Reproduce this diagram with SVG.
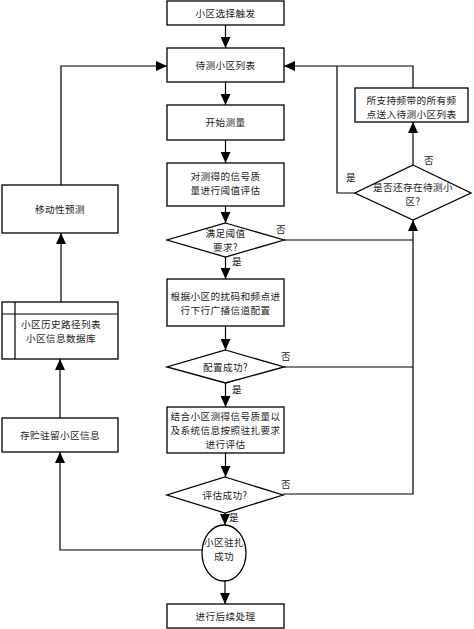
<svg xmlns="http://www.w3.org/2000/svg" width="474" height="629" viewBox="0 0 474 629">
<defs>
<style>
.box{fill:#fff;stroke:#000;stroke-width:1.3}
.t{font-family:"Noto Sans CJK SC","Noto Sans",sans-serif;font-size:9.6px;letter-spacing:0.4px;text-anchor:middle;fill:#1a1a1a}
.l{font-family:"Noto Sans CJK SC","Noto Sans",sans-serif;font-size:9.6px;fill:#1a1a1a}
.c{fill:none;stroke:#000;stroke-width:1.2}
</style>
<marker id="ah" markerUnits="userSpaceOnUse" markerWidth="12" markerHeight="10" refX="11" refY="5" orient="auto">
<path d="M0,0 L11,5 L0,10 Z" fill="#000"/>
</marker>
</defs>
<rect width="474" height="629" fill="#fff"/>

<g id="connectors">
<path class="c" d="M225.5,25 V48" marker-end="url(#ah)"/>
<path class="c" d="M225.5,82 V105" marker-end="url(#ah)"/>
<path class="c" d="M225.5,140 V163" marker-end="url(#ah)"/>
<path class="c" d="M225.5,206 V223" marker-end="url(#ah)"/>
<path class="c" d="M225.5,257 V279" marker-end="url(#ah)"/>
<path class="c" d="M225.5,326 V350" marker-end="url(#ah)"/>
<path class="c" d="M225.5,383 V407" marker-end="url(#ah)"/>
<path class="c" d="M225.5,453 V477" marker-end="url(#ah)"/>
<path class="c" d="M225,513 V525" marker-end="url(#ah)"/>
<path class="c" d="M225,581 V604" marker-end="url(#ah)"/>
<path class="c" d="M284,240 H413"/>
<path class="c" d="M284,367 H413"/>
<path class="c" d="M283,494 H413 V220" marker-end="url(#ah)"/>
<path class="c" d="M413,165 V122" marker-end="url(#ah)"/>
<path class="c" d="M413,88 V66 H284" marker-end="url(#ah)"/>
<path class="c" d="M355,193 H337 V66"/>
<path class="c" d="M202,550 H60 V452" marker-end="url(#ah)"/>
<path class="c" d="M60,418 V359" marker-end="url(#ah)"/>
<path class="c" d="M61,302 V233" marker-end="url(#ah)"/>
<path class="c" d="M61,185 V66 H167" marker-end="url(#ah)"/>
</g>

<g id="n-trigger">
<rect class="box" x="167" y="1" width="117" height="24"/>
<text class="t" x="225.5" y="16.5">小区选择触发</text>
</g>
<g id="n-list">
<rect class="box" x="167" y="48" width="117" height="34"/>
<text class="t" x="225.5" y="68.5">待测小区列表</text>
</g>
<g id="n-start">
<rect class="box" x="167" y="105" width="117" height="35"/>
<text class="t" x="225.5" y="126">开始测量</text>
</g>
<g id="n-eval">
<rect class="box" x="167" y="163" width="117" height="43"/>
<text class="t" x="225.5" y="180">对测得的信号质</text>
<text class="t" x="225.5" y="194">量进行阈值评估</text>
</g>
<g id="d-threshold">
<polygon class="box" points="225.5,223 284,240 225.5,257 167,240"/>
<text class="t" x="225.5" y="236.5">满足阈值</text>
<text class="t" x="225.5" y="250.5">要求?</text>
</g>
<g id="n-config">
<rect class="box" x="167" y="279" width="117" height="47"/>
<text class="t" x="225.5" y="299.5">根据小区的扰码和频点进</text>
<text class="t" x="225.5" y="313.5">行下行广播信道配置</text>
</g>
<g id="d-config">
<polygon class="box" points="225.5,350 284,367 225.5,383 167,367"/>
<text class="t" x="225.5" y="370.5">配置成功?</text>
</g>
<g id="n-assess">
<rect class="box" x="167" y="407" width="117" height="46"/>
<text class="t" x="225.5" y="419.5">结合小区测得信号质量以</text>
<text class="t" x="225.5" y="433.5">及系统信息按照驻扎要求</text>
<text class="t" x="225.5" y="447.5">进行评估</text>
</g>
<g id="d-assess">
<polygon class="box" points="225,477 283,495 225,513 167,495"/>
<text class="t" x="225" y="498.5">评估成功?</text>
</g>
<g id="n-camp">
<ellipse class="box" cx="224" cy="553" rx="22" ry="28"/>
<text class="t" x="224" y="545.5">小区驻扎</text>
<text class="t" x="224" y="559.5">成功</text>
</g>
<g id="n-follow">
<rect class="box" x="167" y="604" width="117" height="24"/>
<text class="t" x="225.5" y="619.5">进行后续处理</text>
</g>
<g id="n-add">
<rect class="box" x="355" y="88" width="113" height="34"/>
<text class="t" x="411.5" y="103.5">所支持频带的所有频</text>
<text class="t" x="411.5" y="117.5">点送入待测小区列表</text>
</g>
<g id="d-remain">
<polygon class="box" points="413,165 471,193 413,220 355,193"/>
<text class="t" x="413" y="190.5">是否还存在待测小</text>
<text class="t" x="413" y="204.5">区?</text>
</g>
<g id="n-mobility">
<rect class="box" x="2" y="185" width="116" height="48"/>
<text class="t" x="60" y="212.5">移动性预测</text>
</g>
<g id="n-db">
<rect class="box" x="2" y="302" width="116" height="57"/>
<line class="c" x1="2" y1="314" x2="118" y2="314"/>
<line class="c" x1="15" y1="302" x2="15" y2="359"/>
<text class="t" x="61" y="327.5">小区历史路径列表</text>
<text class="t" x="61" y="341.5">小区信息数据库</text>
</g>
<g id="n-store">
<rect class="box" x="2" y="418" width="116" height="34"/>
<text class="t" x="60" y="438.5">存贮驻留小区信息</text>
</g>

<g id="labels">
<text class="l" x="276" y="233">否</text>
<text class="l" x="232" y="265">是</text>
<text class="l" x="281" y="360">否</text>
<text class="l" x="232" y="393">是</text>
<text class="l" x="281" y="488">否</text>
<text class="l" x="229" y="521">是</text>
<text class="l" x="424" y="164">否</text>
<text class="l" x="346" y="181">是</text>
</g>
</svg>
